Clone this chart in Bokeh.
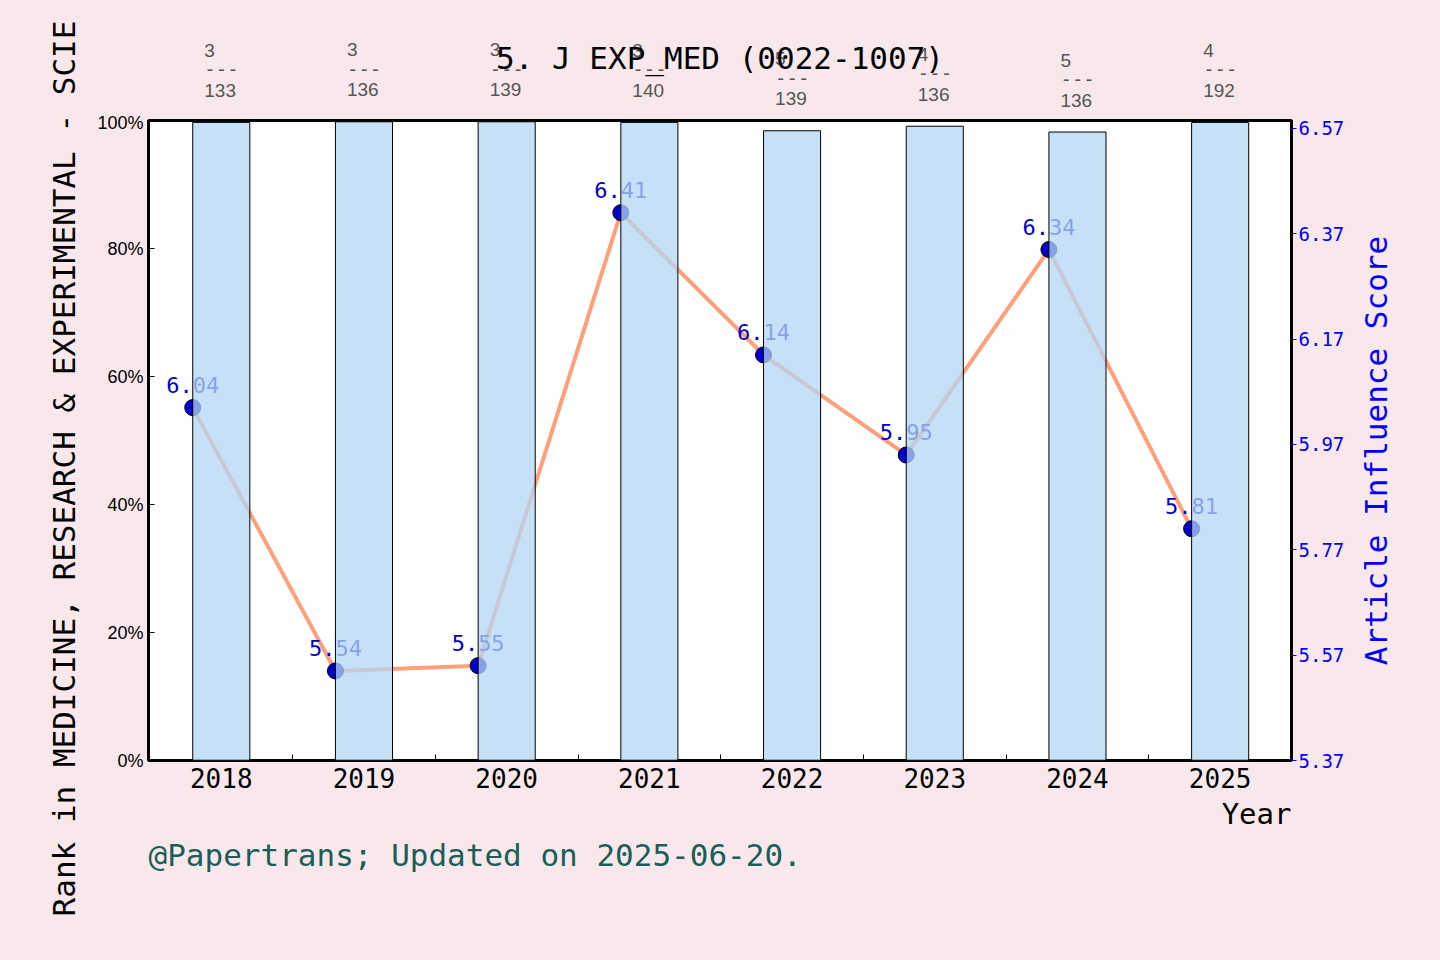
import math
from bokeh.plotting import figure
from bokeh.layouts import row, column
from bokeh.models import (Range1d, LinearAxis, FixedTicker, NumeralTickFormatter,
                          ColumnDataSource, Title)
from bokeh.core.properties import value
from bokeh.embed import file_html
from bokeh.resources import INLINE

years = ["2018", "2019", "2020", "2021", "2022", "2023", "2024", "2025"]
ranks = ["3", "3", "3", "3", "5", "4", "5", "4"]
totals = ["133", "136", "139", "140", "139", "136", "136", "192"]
bar_pct = [0.997, 0.998, 0.998, 0.997, 0.984, 0.991, 0.982, 0.997]
ais = [6.04, 5.54, 5.55, 6.41, 6.14, 5.95, 6.34, 5.81]
ais_ticks = [5.37, 5.57, 5.77, 5.97, 6.17, 6.37, 6.57]
pct_ticks = [0, 0.2, 0.4, 0.6, 0.8, 1.0]
title_text = "5. J EXP_MED (0022-1007)"
left_label = "Rank in MEDICINE, RESEARCH & EXPERIMENTAL - SCIE"
right_label = "Article Influence Score"
x_label = "Year"
footer = "@Papertrans; Updated on 2025-06-20."

BG = "#F8E8EC"
MONO = "DejaVu Sans Mono"
SANS = "Liberation Sans"

# ---- layout constants (pixels) ----
W, H = 1440, 960
LEFT_W, RIGHT_W, TOP_H = 80, 90, 112
FRAME_H = 640                       # height of the 0..100 % plot frame
MAIN_W = W - LEFT_W - RIGHT_W
MAIN_H = H - TOP_H
B_LEFT, B_RIGHT, B_TOP = 68, 59, 8
B_BOTTOM = MAIN_H - B_TOP - FRAME_H
PX_PER_UNIT = FRAME_H / 1.0         # left axis: 1.0 == 100 %

X_RANGE = Range1d(-0.51, 7.5)
AIS_LO, AIS_HI = 5.37, 6.585

idx = list(range(len(years)))
src = ColumnDataSource(dict(
    x=idx,
    px=[i - 0.2 for i in idx],
    bar=bar_pct,
    ais=ais,
    ais_lbl=[f"{v:.2f}" for v in ais],
))


def aux_fig(width, height, x_range, y_range, **kw):
    f = figure(width=width, height=height, output_backend="svg", toolbar_location=None,
               x_range=x_range, y_range=y_range, x_axis_location=None,
               y_axis_location=None, **kw)
    f.background_fill_color = BG
    f.border_fill_color = BG
    f.outline_line_color = None
    f.xgrid.visible = False
    f.ygrid.visible = False
    return f


# ---------------- main plot ----------------
p = figure(width=MAIN_W, height=MAIN_H, output_backend="svg", toolbar_location=None,
           x_range=X_RANGE, y_range=Range1d(0, 1),
           min_border_left=B_LEFT, min_border_right=B_RIGHT,
           min_border_top=B_TOP, min_border_bottom=B_BOTTOM)
p.background_fill_color = "white"
p.border_fill_color = BG
p.outline_line_color = "black"
p.outline_line_width = 3
p.xgrid.visible = False
p.ygrid.visible = False
p.extra_y_ranges = {"ais": Range1d(AIS_LO, AIS_HI)}

xa = p.xaxis[0]
xa.ticker = FixedTicker(ticks=idx, minor_ticks=[i + 0.5 for i in idx[:-1]])
xa.major_label_overrides = {i: y for i, y in zip(idx, years)}
xa.major_tick_line_color = None
xa.minor_tick_in = 6
xa.minor_tick_out = 0
xa.minor_tick_line_color = "black"
xa.axis_line_color = None
xa.major_label_text_font = MONO
xa.major_label_text_font_size = "26px"
xa.major_label_text_color = "black"
xa.major_label_standoff = 1

ya = p.yaxis[0]
ya.ticker = FixedTicker(ticks=pct_ticks)
ya.formatter = NumeralTickFormatter(format="0%")
ya.major_tick_in = 6
ya.major_tick_out = 0
ya.minor_tick_line_color = None
ya.axis_line_color = None
ya.major_label_text_font = SANS
ya.major_label_text_font_size = "18px"
ya.major_label_text_color = "black"
ya.major_label_standoff = 5

ra = LinearAxis(y_range_name="ais", ticker=FixedTicker(ticks=ais_ticks),
                formatter=NumeralTickFormatter(format="0.00"))
ra.major_tick_in = 0
ra.major_tick_out = 5
ra.major_tick_line_color = "blue"
ra.minor_tick_line_color = None
ra.axis_line_color = None
ra.major_label_text_font = MONO
ra.major_label_text_font_size = "19px"
ra.major_label_text_color = "blue"
ra.major_label_standoff = 2
p.add_layout(ra, "right")

p.add_layout(Title(text=x_label, align="right", text_font=MONO, text_font_size="29px",
                   text_font_style="normal", text_color="black", standoff=8), "below")
p.add_layout(Title(text=footer, align="left", text_font=MONO, text_font_size="31px",
                   text_font_style="normal", text_color="#1B5E58", standoff=0), "below")

# line, dots, value labels (under the translucent bars)
p.line(x="px", y="ais", y_range_name="ais", source=src, line_color="#FFA07A", line_width=4)
p.scatter(x="px", y="ais", y_range_name="ais", source=src, size=16,
          fill_color="#0000CD", line_color="black", line_width=1)
p.text(x="px", y="ais", text="ais_lbl", y_range_name="ais", source=src,
       text_font=value(MONO), text_font_size="22px", text_color="#0000CD",
       text_align="center", text_baseline="middle", y_offset=-23)

p.vbar(x="x", width=0.4, top="bar", bottom=0, source=src,
       fill_color=(179, 213, 244), fill_alpha=0.75, line_color="black", line_width=1)

# ---------------- top strip: rank/total labels and title ----------------
top_lo = 1.0 + B_TOP / PX_PER_UNIT
top_hi = 1.0 + (B_TOP + TOP_H) / PX_PER_UNIT
top = aux_fig(MAIN_W, TOP_H, X_RANGE, Range1d(top_lo, top_hi),
              min_border_left=B_LEFT, min_border_right=B_RIGHT,
              min_border_top=0, min_border_bottom=0)

tsrc = ColumnDataSource(dict(
    x=idx,
    y_rank=[b + 72 / PX_PER_UNIT for b in bar_pct],
    y_dash=[b + 53 / PX_PER_UNIT for b in bar_pct],
    y_total=[b + 32 / PX_PER_UNIT for b in bar_pct],
    rank=ranks,
    dash=["---"] * len(years),
    total=totals,
))
for ycol, tcol, font in (("y_rank", "rank", SANS), ("y_dash", "dash", MONO),
                         ("y_total", "total", SANS)):
    top.text(x="x", y=ycol, text=tcol, source=tsrc, x_offset=-17,
             text_align="left", text_baseline="middle",
             text_font=value(font), text_font_size="19px", text_color="#555555")

title_y = top_hi - 57 / PX_PER_UNIT
top.text(x=[(X_RANGE.start + X_RANGE.end) / 2], y=[title_y], text=[title_text],
         text_align="center", text_baseline="middle", text_font=value(MONO),
         text_font_size="31px", text_color="black")

# ---------------- side strips: axis titles ----------------
left = aux_fig(LEFT_W, H, Range1d(0, LEFT_W), Range1d(0, H), min_border=0)
left.text(x=[63], y=[H - 468], text=[left_label], angle=math.pi / 2,
          text_align="center", text_baseline="middle", text_font=value(MONO),
          text_font_size="31px", text_color="black")

right = aux_fig(RIGHT_W, H, Range1d(0, RIGHT_W), Range1d(0, H), min_border=0)
right.text(x=[1375 - (LEFT_W + MAIN_W)], y=[H - 450], text=[right_label],
           angle=math.pi / 2, text_align="center", text_baseline="middle",
           text_font=value(MONO), text_font_size="31px", text_color="blue")

bg_style = {"background-color": BG}
layout = row(left, column(top, p, spacing=0, styles=bg_style), right, spacing=0,
             styles=bg_style)
open("out.html", "w").write(file_html(layout, INLINE))
